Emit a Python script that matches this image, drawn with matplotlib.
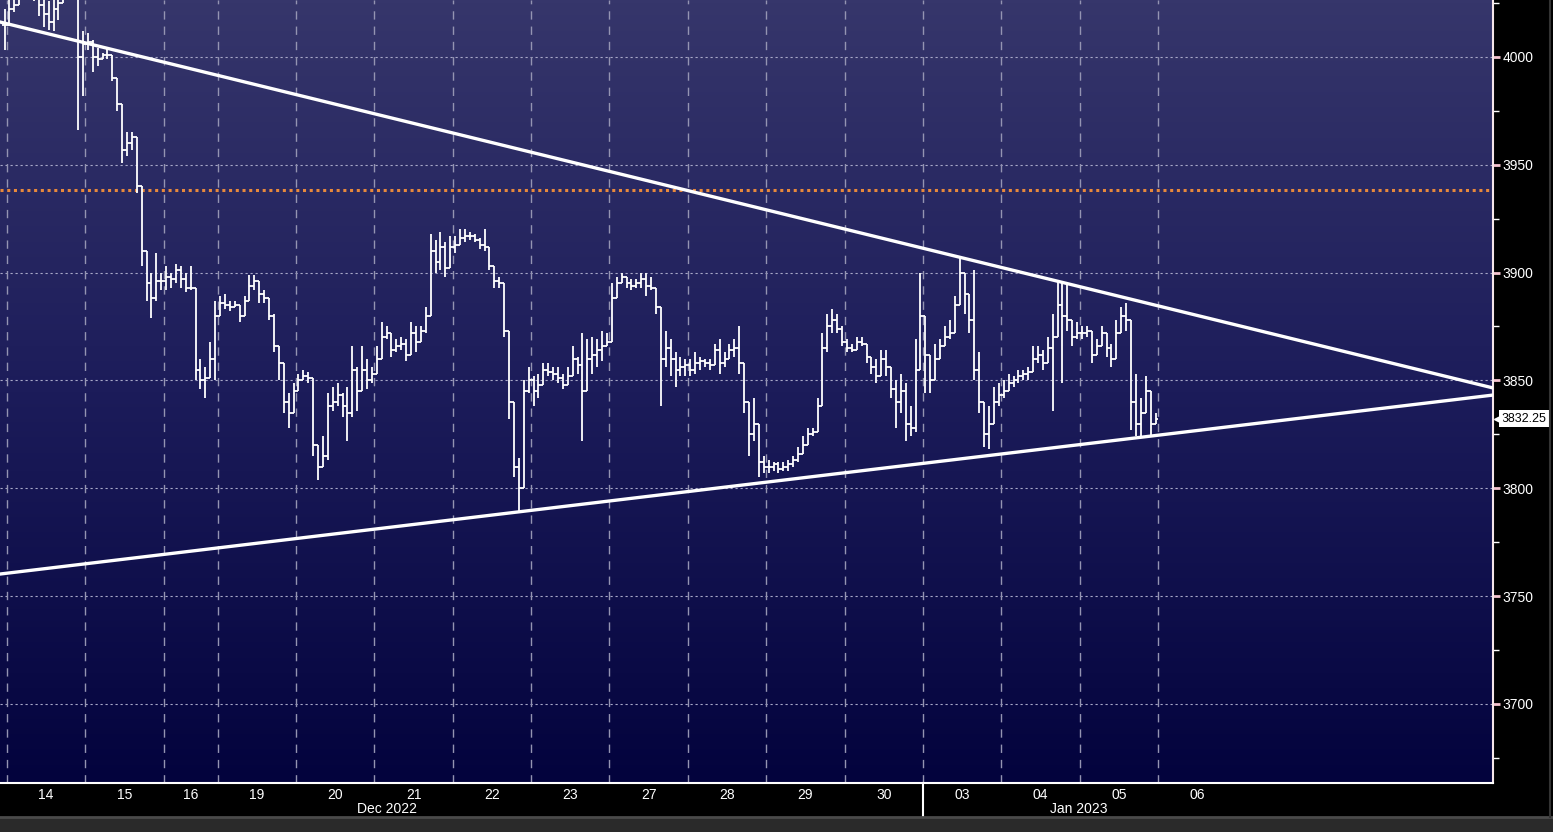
import numpy as np
import matplotlib.pyplot as plt
from matplotlib.colors import LinearSegmentedColormap
from matplotlib.transforms import blended_transform_factory
from matplotlib.patches import Rectangle

plt.rcParams['font.family'] = ['Liberation Sans', 'DejaVu Sans']

# sessions (days) shown on the x axis and how many bars each one holds
session_labels = ['14', '15', '16', '19', '20', '21', '22', '23',
                  '27', '28', '29', '30', '03', '04', '05']
session_bars = [16, 16, 11, 16, 16, 16, 16, 16, 16, 16, 16, 16, 16, 16, 16]
lead_bars = 1          # partial bar before the first full session
future_label = '06'
month_labels = ['Dec 2022', 'Jan 2023']
month_pos = [78.1, 219.4]
year_break_session = 12   # first session of 2023

# OHLC bars (open = previous close)
highs = [4022,
         4028, 4030, 4040, 4045, 4042, 4035, 4030, 4029, 4026, 4027, 4030, 4038, 4040, 4042, 4034, 4012,
         4011, 4008, 4004, 4002, 4004, 3996, 3989, 3969, 3965, 3965, 3955, 3937, 3906, 3900, 3909, 3900,
         3903, 3900, 3904, 3903, 3900, 3903, 3872, 3860, 3856, 3868, 3887,
         3889, 3890, 3887, 3887, 3884, 3889, 3899, 3899, 3894, 3892, 3884, 3881, 3863, 3849, 3844, 3849,
         3853, 3855, 3854, 3850, 3819, 3824, 3844, 3847, 3849, 3844, 3847, 3866, 3856, 3866, 3860, 3856,
         3866, 3877, 3875, 3870, 3869, 3870, 3869, 3877, 3875, 3875, 3884, 3918, 3915, 3919, 3914, 3917,
         3917, 3920, 3920, 3919, 3918, 3916, 3920, 3907, 3903, 3898, 3893, 3856, 3830, 3814, 3850, 3856,
         3852, 3853, 3858, 3858, 3856, 3856, 3853, 3856, 3866, 3861, 3872, 3869, 3870, 3869, 3873, 3872,
         3895, 3898, 3900, 3898, 3897, 3897, 3900, 3900, 3898, 3891, 3877, 3873, 3869, 3863, 3861, 3860,
         3860, 3863, 3861, 3860, 3860, 3867, 3869, 3863, 3867, 3869, 3875, 3847, 3838, 3842, 3826, 3815,
         3813, 3812, 3812, 3812, 3813, 3815, 3819, 3824, 3828, 3828, 3842, 3872, 3881, 3883, 3881, 3875,
         3869, 3867, 3870, 3870, 3866, 3861, 3860, 3864, 3864, 3853, 3850, 3853, 3849, 3838, 3869, 3900,
         3873, 3860, 3867, 3869, 3875, 3878, 3889, 3907, 3900, 3887, 3901, 3863, 3838, 3838, 3847, 3849,
         3850, 3853, 3852, 3855, 3855, 3856, 3866, 3866, 3864, 3870, 3881, 3896, 3896, 3895, 3878, 3877,
         3875, 3875, 3870, 3869, 3875, 3869, 3867, 3878, 3884, 3886, 3863, 3853, 3842, 3852, 3835, 3835]
lows = [4003,
        4019.5, 4021, 4030, 4033, 4032, 4026, 4019, 4014, 4012.5, 4012, 4017, 4027, 4030, 4031, 3966, 3982,
        4003, 3993, 3996, 3999, 3999, 3989, 3975, 3951, 3954, 3957, 3937, 3903, 3887, 3879, 3887, 3892,
        3892, 3893, 3895, 3893, 3891, 3892, 3850, 3846, 3842, 3852, 3850,
        3881, 3883, 3882, 3884, 3877, 3884, 3890, 3892, 3886, 3886, 3878, 3863, 3850, 3835, 3828, 3835,
        3847, 3850, 3849, 3815, 3804, 3812, 3813, 3836, 3838, 3833, 3822, 3833, 3836, 3847, 3846, 3849,
        3856, 3864, 3869, 3861, 3863, 3864, 3859, 3867, 3863, 3870, 3872, 3895, 3900, 3901, 3898, 3907,
        3909, 3914, 3914, 3915, 3914, 3911, 3910, 3901, 3893, 3893, 3870, 3832, 3805, 3788.5, 3808, 3844,
        3838, 3842, 3850, 3852, 3850, 3849, 3846, 3849, 3856, 3853, 3822, 3850, 3853, 3856, 3859, 3867,
        3878, 3891, 3895, 3893, 3892, 3893, 3893, 3889, 3892, 3881, 3838, 3856, 3852, 3847, 3852, 3852,
        3852, 3853, 3855, 3856, 3855, 3861, 3853, 3856, 3860, 3861, 3853, 3835, 3815, 3822, 3805, 3807,
        3807, 3808, 3807, 3808, 3808, 3810, 3812, 3816, 3821, 3824, 3828, 3850, 3863, 3872, 3872, 3866,
        3863, 3863, 3866, 3866, 3858, 3853, 3849, 3853, 3852, 3842, 3828, 3835, 3822, 3824, 3826, 3866,
        3844, 3844, 3856, 3863, 3867, 3869, 3873, 3892, 3881, 3872, 3850, 3835, 3819, 3818, 3835, 3838,
        3842, 3846, 3847, 3849, 3850, 3850, 3856, 3858, 3855, 3860, 3836, 3873, 3849, 3873, 3866, 3869,
        3869, 3870, 3858, 3863, 3867, 3861, 3856, 3866, 3875, 3873, 3827, 3824, 3824, 3835, 3824, 3830]
closes = [4015,
          4022, 4024, 4035, 4040, 4036, 4030, 4024, 4020, 4016, 4022, 4025, 4034, 4036, 4035, 4000, 4006,
          4007, 4000, 3999, 4001, 4001, 3990, 3978, 3957, 3960, 3963, 3940, 3910, 3895, 3888, 3896, 3896,
          3898, 3897, 3901, 3897, 3893, 3893, 3855, 3850, 3851, 3860, 3880,
          3886, 3885, 3884, 3885, 3880, 3887, 3894, 3896, 3890, 3888, 3880, 3866, 3858, 3840, 3835, 3845,
          3850, 3852, 3851, 3820, 3810, 3815, 3838, 3840, 3843, 3838, 3835, 3855, 3845, 3855, 3850, 3853,
          3860, 3870, 3872, 3864, 3866, 3867, 3862, 3872, 3868, 3873, 3880, 3910, 3905, 3912, 3902, 3912,
          3913, 3916, 3917, 3917, 3915, 3913, 3912, 3903, 3896, 3895, 3873, 3840, 3810, 3800, 3845, 3850,
          3845, 3848, 3855, 3854, 3853, 3851, 3848, 3852, 3860, 3857, 3845, 3860, 3862, 3864, 3866, 3868,
          3888, 3895, 3898, 3895, 3894, 3895, 3897, 3894, 3893, 3884, 3860, 3865, 3860, 3855, 3856, 3857,
          3855, 3858, 3859, 3858, 3857, 3864, 3858, 3860, 3864, 3865, 3858, 3840, 3825, 3830, 3812, 3810,
          3810, 3811, 3809, 3810, 3811, 3813, 3816, 3820, 3825, 3826, 3838, 3865, 3875, 3878, 3874, 3868,
          3865, 3864, 3868, 3867, 3861, 3856, 3852, 3860, 3856, 3846, 3840, 3845, 3830, 3828, 3855, 3880,
          3862, 3850, 3860, 3866, 3870, 3872, 3885, 3900, 3890, 3878, 3855, 3840, 3825, 3830, 3840, 3843,
          3845, 3849, 3850, 3852, 3853, 3854, 3860, 3862, 3858, 3865, 3870, 3885, 3880, 3878, 3870, 3872,
          3872, 3873, 3862, 3866, 3872, 3865, 3860, 3872, 3880, 3878, 3840, 3830, 3835, 3845, 3830, 3832.25]

# trend lines: price at left and right edge of the chart
upper_trend = [4016.2, 3846.5]
lower_trend = [3760.2, 3843.2]
level_line = 3938.3
y_ticks = [3700, 3750, 3800, 3850, 3900, 3950, 4000]

highs = np.array(highs, dtype=float)
lows = np.array(lows, dtype=float)
closes = np.array(closes, dtype=float)
opens = np.r_[closes[0], closes[:-1]]
x = np.arange(len(closes))

bounds = lead_bars - 0.5 + np.r_[0, np.cumsum(session_bars)]
centers = (bounds[:-1] + bounds[1:]) / 2
xmin, xmax = -0.93, 303.9
ymin, ymax = 3663.3, 4026.4

fig = plt.figure(figsize=(15.53, 8.32), dpi=100, facecolor='black')
ax = fig.add_axes([0, 49 / 832, 1493 / 1553, 783 / 832])
ax.set_xlim(xmin, xmax)
ax.set_ylim(ymin, ymax)

# background gradient
cmap = LinearSegmentedColormap.from_list('bg', ['#03033d', '#1c1c5a', '#36366b'])
grad = np.linspace(0, 1, 256).reshape(-1, 1)
ax.imshow(grad, cmap=cmap, aspect='auto', origin='lower',
          extent=[xmin, xmax, ymin, ymax], zorder=0)

# grid
for yv in y_ticks:
    ax.axhline(yv, color='#a8a8c8', lw=0.8, dashes=(2, 2.5), zorder=1)
for b in bounds:
    ax.axvline(b, color='#9494b2', lw=1, dashes=(6, 5), zorder=1)

# OHLC bars
lo = np.minimum(lows, opens)
hi = np.maximum(highs, opens)
ax.vlines(x, lo, hi, color='white', lw=1.3, zorder=3)
ax.hlines(opens, x - 0.5, x, color='white', lw=1.3, zorder=3)
ax.hlines(closes, x, x + 0.5, color='white', lw=1.3, zorder=3)

# trend lines and level
ax.plot([xmin, xmax], upper_trend, color='white', lw=2.4, zorder=4)
ax.plot([xmin, xmax], lower_trend, color='white', lw=2.4, zorder=4)
ax.axhline(level_line, color='#e8893c', lw=2.2, ls=(0, (1, 1.2)), zorder=2)

# axes styling
for s in ['top', 'left']:
    ax.spines[s].set_visible(False)
ax.spines['right'].set_color('#f6e6ea')
ax.spines['right'].set_linewidth(1.5)
ax.spines['bottom'].set_color('white')
ax.spines['bottom'].set_linewidth(1.5)

ax.yaxis.tick_right()
ax.set_yticks(y_ticks)
ax.set_yticklabels([str(v) for v in y_ticks])
ax.set_yticks([v + 25 for v in [3650] + y_ticks], minor=True)
ax.tick_params(axis='y', which='major', colors='#f5c3cf', length=5, width=2,
               pad=2, labelsize=10, labelcolor='white')
ax.tick_params(axis='y', which='minor', colors='white', length=4, width=1)
ax.set_xticks([])

# session labels
tr = blended_transform_factory(ax.transData, ax.transAxes)
for lab, c in zip(session_labels, centers):
    ax.text(c, -0.0155, lab, transform=tr, color='white', fontsize=10,
            ha='center', va='center', clip_on=False)
ax.text(bounds[-1] + session_bars[-1] / 2, -0.0155, future_label, transform=tr,
        color='white', fontsize=10, ha='center', va='center', clip_on=False)
for lab, p in zip(month_labels, month_pos):
    ax.text(p, -0.0335, lab, transform=tr, color='white', fontsize=10,
            ha='center', va='center', clip_on=False)
yb = bounds[year_break_session]
ax.plot([yb, yb], [0, -0.045], transform=tr, color='white', lw=1.5, clip_on=False)

# last price tag
trl = blended_transform_factory(ax.transAxes, ax.transData)
ax.plot([1.0032], [closes[-1]], marker='<', color='white', ms=6, transform=trl,
        clip_on=False, zorder=5)
ax.text(1.0058, closes[-1], '%.2f' % closes[-1], transform=trl, color='black',
        fontsize=9, ha='left', va='center', clip_on=False,
        bbox=dict(boxstyle='square,pad=0.18', fc='white', ec='none'))

# window chrome at the bottom
fig.patches.append(Rectangle((0, 0), 1, 15 / 832, transform=fig.transFigure,
                             fc='#2a2a2a', ec='none'))
fig.lines.append(plt.Line2D([0, 1], [15 / 832, 15 / 832], transform=fig.transFigure,
                            color='#4a4a4a', lw=2))
fig.lines.append(plt.Line2D([1550 / 1553] * 2, [15 / 832, 1], transform=fig.transFigure,
                            color='#333333', lw=1.5))

fig.savefig('out.png', dpi=100, facecolor='black')
